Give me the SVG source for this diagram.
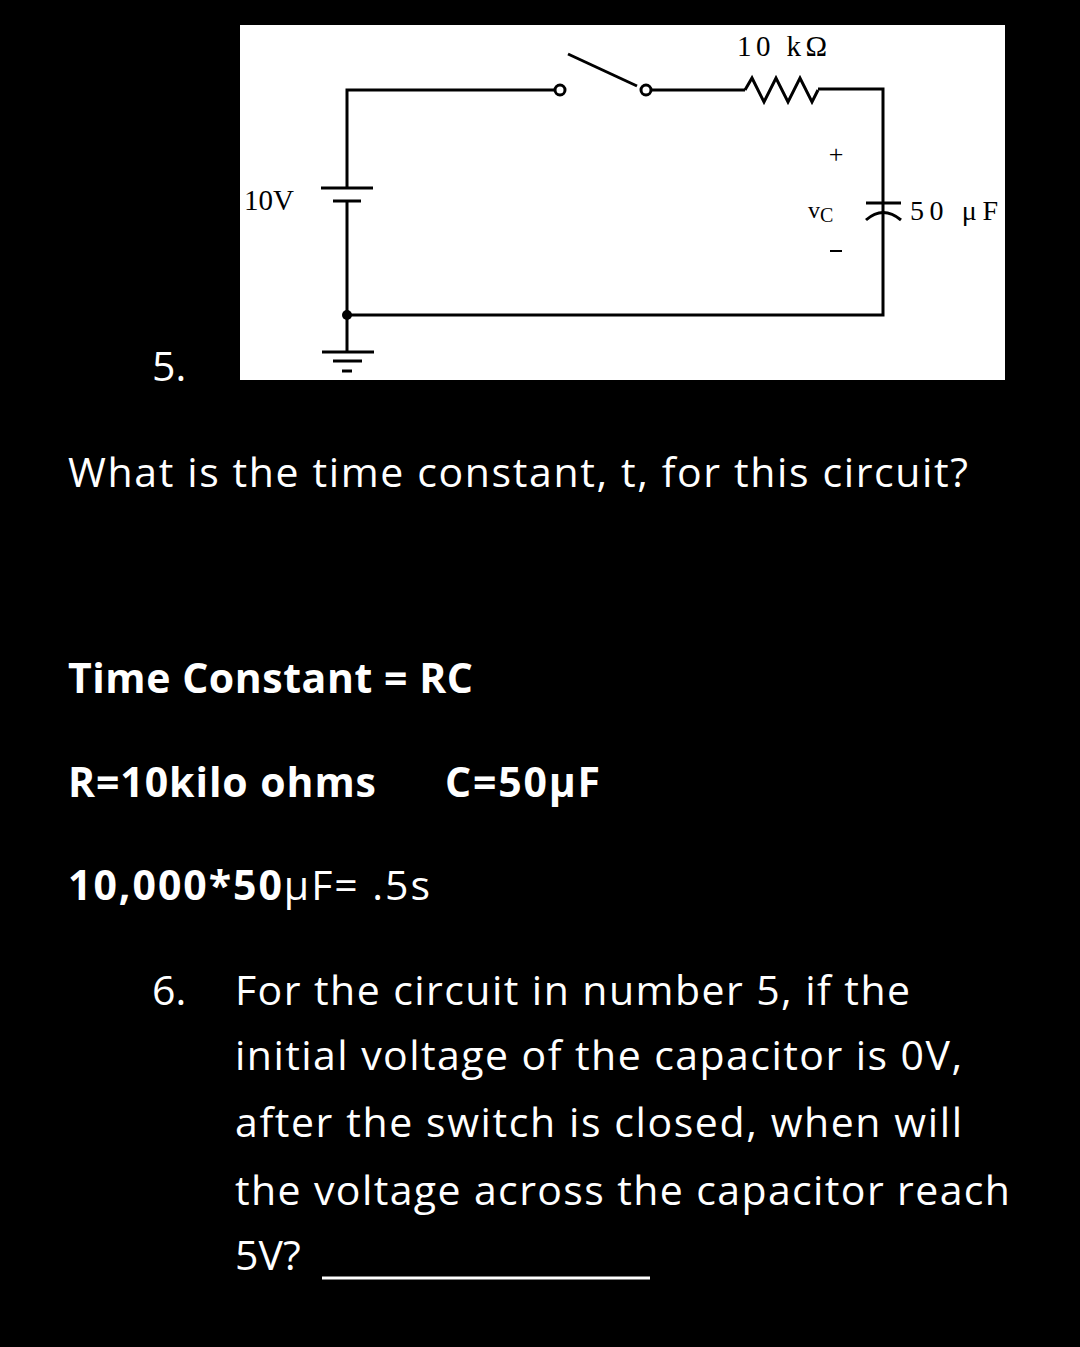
<svg xmlns="http://www.w3.org/2000/svg" width="1080" height="1347" viewBox="0 0 1080 1347">
<style>
.w{stroke:#000;stroke-width:3;fill:none}
.s{font-family:"Liberation Serif",serif;fill:#000}
.t{font-family:"Open Sans","Liberation Sans",sans-serif;fill:#fff;font-size:41px}
.b{font-weight:bold}
</style>
<rect width="1080" height="1347" fill="#000"/>
<g id="circuit">
<rect x="240" y="25" width="765" height="355" fill="#fff"/>
<g id="connectors">
<path class="w" d="M556,90 H347 V188 M347,201 V352 M347,315 H883 V89 H818 M745,90 H651 M883,203 V89 M883,216 V315"/>
</g>
<g id="switch">
<circle class="w" cx="560" cy="90" r="5"/><circle class="w" cx="646" cy="90" r="5"/>
<line class="w" x1="568" y1="54" x2="637" y2="86"/>
</g>
<g id="resistor"><polyline class="w" points="745,90 752,78 764,102 776,78 788,102 800,78 812,102 818,90"/>
<text class="s" x="737" y="56" font-size="29" textLength="90">10 kΩ</text></g>
<g id="battery">
<line class="w" x1="321" y1="188" x2="373" y2="188"/><line class="w" x1="333" y1="201" x2="361" y2="201"/>
<text class="s" x="244" y="210" font-size="29">10V</text></g>
<g id="ground">
<circle cx="347" cy="315" r="5" fill="#000"/>
<line class="w" x1="322" y1="352" x2="374" y2="352"/><line class="w" x1="333" y1="361" x2="362" y2="361"/><line class="w" x1="342" y1="371" x2="352" y2="371"/></g>
<g id="capacitor">
<line class="w" x1="866" y1="203" x2="901" y2="203"/>
<path class="w" d="M866,220 Q883,205 901,220"/>
<text class="s" x="836" y="163" font-size="26" text-anchor="middle">+</text>
<text class="s" x="808" y="218" font-size="24">v<tspan font-size="20" dy="4">C</tspan></text>
<line x1="830" y1="251" x2="842" y2="251" stroke="#000" stroke-width="2"/>
<text class="s" x="910" y="220" font-size="28" textLength="88">50 μF</text></g>
</g>
<g id="text">
<text class="t" x="152" y="381">5.</text>
<text class="t" x="68" y="487" textLength="900">What is the time constant, t, for this circuit?</text>
<text class="t b" x="68" y="693" textLength="405">Time Constant = RC</text>
<text class="t b" x="68" y="797" textLength="308">R=10kilo ohms</text>
<text class="t b" x="445" y="797" textLength="155">C=50μF</text>
<text class="t" x="68" y="900" textLength="362"><tspan class="b">10,000*50</tspan>μF= .5s</text>
<text class="t" x="152" y="1005">6.</text>
<text class="t" x="235" y="1005" textLength="675">For the circuit in number 5, if the</text>
<text class="t" x="235" y="1070" textLength="727">initial voltage of the capacitor is 0V,</text>
<text class="t" x="235" y="1137" textLength="727">after the switch is closed, when will</text>
<text class="t" x="235" y="1205" textLength="775">the voltage across the capacitor reach</text>
<text class="t" x="235" y="1270">5V?</text>
<line x1="322" y1="1278" x2="650" y2="1278" stroke="#fff" stroke-width="3"/>
</g>
</svg>
